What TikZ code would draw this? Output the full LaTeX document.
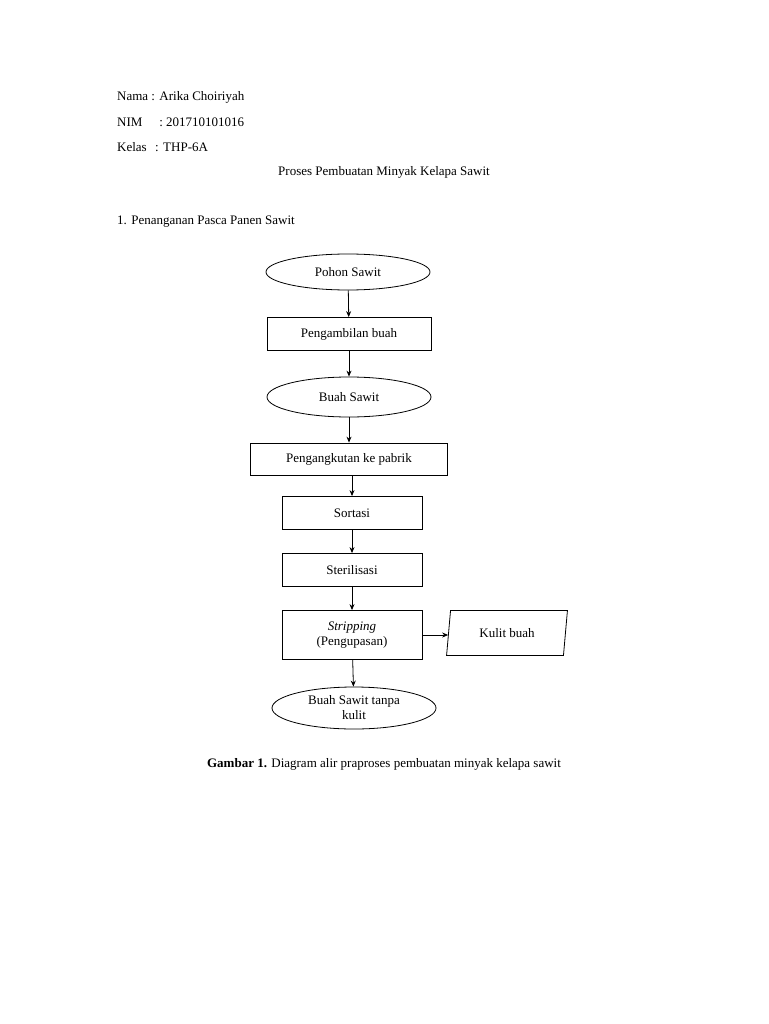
\documentclass[tikz,border=0pt]{standalone}
\usepackage{fontspec}
\setmainfont{Liberation Serif}
\usetikzlibrary{shapes.geometric,arrows.meta}
\begin{document}
\begin{tikzpicture}[x=1pt,y=-1pt,font=\fontsize{13}{15}\selectfont,
  box/.style={draw,thick,inner sep=0pt,align=center},
  ell/.style={draw,thick,ellipse,inner sep=0pt,align=center},
  arr/.style={thick,-{Stealth[length=6pt,width=5pt]}},
  txt/.style={anchor=west,inner sep=0pt}]
\useasboundingbox (0,0) rectangle (768,1024);
\node[txt] (t1) at (117,97) {Nama : Arika Choiriyah};
\node[txt] (t2) at (117,122) {NIM\hspace{1.3em}: 201710101016};
\node[txt] (t3) at (117,147) {Kelas\hspace{0.4em} : THP-6A};
\node[inner sep=0pt] (t4) at (384,172) {Proses Pembuatan Minyak Kelapa Sawit};
\node[txt] (t5) at (117,222) {1. Penanganan Pasca Panen Sawit};
\node[ell,minimum width=164pt,minimum height=36pt] (a) at (348,272) {Pohon Sawit};
\node[box,minimum width=164pt,minimum height=33pt] (b) at (349,334) {Pengambilan buah};
\node[ell,minimum width=164pt,minimum height=40pt] (c) at (349,397) {Buah Sawit};
\node[box,minimum width=197pt,minimum height=32pt] (d) at (349,459) {Pengangkutan ke pabrik};
\node[box,minimum width=140pt,minimum height=33pt] (e) at (352,513) {Sortasi};
\node[box,minimum width=140pt,minimum height=33pt] (f) at (352,570) {Sterilisasi};
\node[box,minimum width=140pt,minimum height=49pt] (g) at (352,635) {\textit{Stripping}\\(Pengupasan)};
\node[box,trapezium,trapezium left angle=78,trapezium right angle=102,minimum width=121pt,minimum height=45pt,trapezium stretches=true] (h) at (507,633) {Kulit buah};
\node[ell,minimum width=164pt,minimum height=42pt] (i) at (354,708) {Buah Sawit tanpa\\kulit};
\draw[arr] (a) -- (b);
\draw[arr] (b) -- (c);
\draw[arr] (c) -- (d);
\draw[arr] (e|-d.south) -- (e);
\draw[arr] (e) -- (f);
\draw[arr] (f) -- (g);
\draw[arr] (g) -- (i);
\draw[arr] (g.east) -- (h.west|-g.east);
\node[inner sep=0pt] (cap) at (384,764) {\textbf{Gambar 1.} Diagram alir praproses pembuatan minyak kelapa sawit};
\end{tikzpicture}
\end{document}
